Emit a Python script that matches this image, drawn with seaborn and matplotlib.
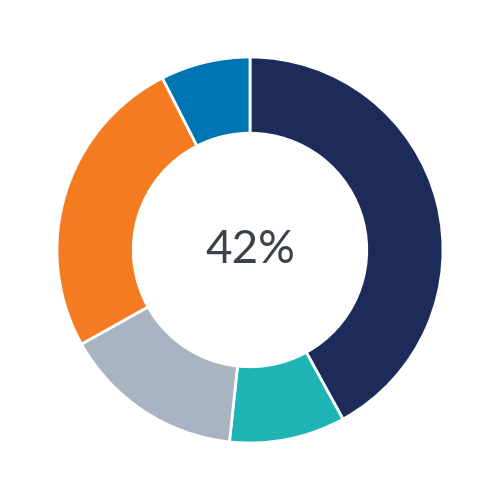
import matplotlib
matplotlib.use("Agg")
import matplotlib.pyplot as plt
import seaborn as sns

# segment shares, clockwise from 12 o'clock
segments = ["Navy", "Teal", "Gray", "Orange", "Blue"]
shares = [42, 9.7, 15.2, 25.6, 7.5]
colors = ["#1c2b5a", "#1eb4b6", "#a9b4c2", "#f47b20", "#0075b4"]
center_label = "42%"

sns.set_theme(style="white")
plt.rcParams['font.family'] = ['Lato', 'DejaVu Sans']

fig = plt.figure(figsize=(5, 5), dpi=100)
ax = fig.add_axes([0, 0, 1, 1])
ax.pie(shares, colors=colors, startangle=90, counterclock=False,
       radius=1.0,
       wedgeprops=dict(width=0.395, edgecolor="white", linewidth=2))
ax.text(0, 0.0, center_label, ha="center", va="center",
        fontsize=33, color="#3c4248", fontweight="normal")
lim = 250 / 193
ax.set_xlim(-lim, lim)
ax.set_ylim(-lim, lim)
ax.set_aspect("equal")
ax.axis("off")

fig.savefig("out.png", dpi=100, facecolor="white")
